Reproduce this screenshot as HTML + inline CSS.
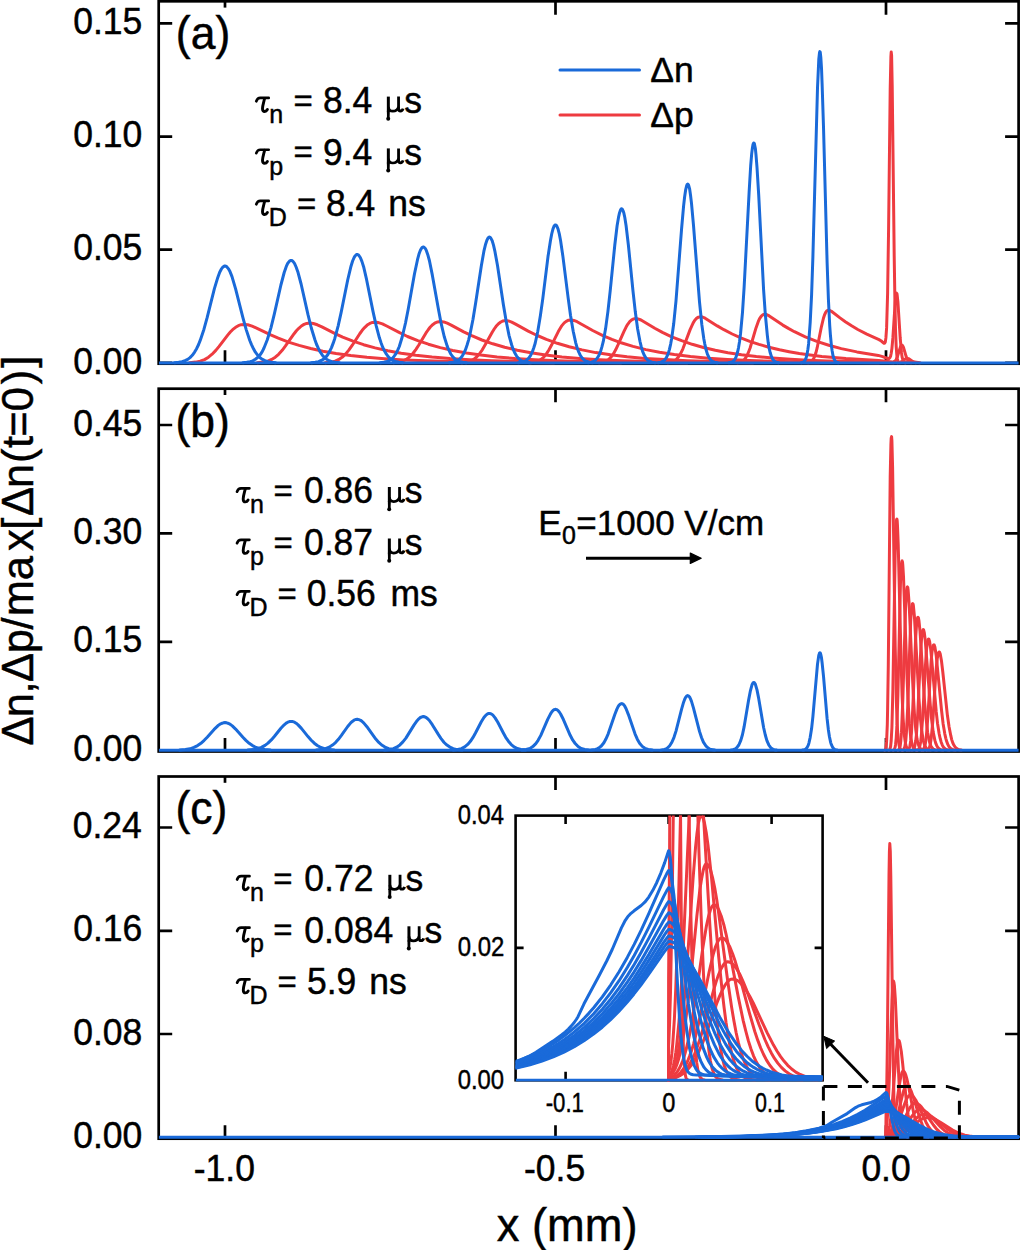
<!DOCTYPE html><html><head><meta charset="utf-8"><style>html,body{margin:0;padding:0;background:#fff;width:1020px;height:1250px;overflow:hidden}svg{display:block}</style></head><body><svg width="1020" height="1250" viewBox="0 0 1020 1250" font-family="'Liberation Sans', sans-serif">
<style>text{stroke:#000;stroke-width:0.45px;paint-order:stroke}</style>
<rect width="1020" height="1250" fill="#fff"/>
<defs>
<clipPath id="ca"><rect x="158.7" y="1.3" width="860.9" height="363.9"/></clipPath>
<clipPath id="cb"><rect x="158.7" y="388.7" width="860.9" height="364.3"/></clipPath>
<clipPath id="cc"><rect x="158.7" y="776.5" width="860.9" height="363.7"/></clipPath>
<clipPath id="ci"><rect x="515.6" y="815.6" width="307" height="266"/></clipPath>
</defs>
<rect x="158.7" y="1.3" width="859.9" height="362.4" fill="none" stroke="#000" stroke-width="2.7"/>
<path d="M158.7,23.4h13.5M1018.6,23.4h-13.5" stroke="#000" stroke-width="2.7"/>
<path d="M158.7,136.6h13.5M1018.6,136.6h-13.5" stroke="#000" stroke-width="2.7"/>
<path d="M158.7,249.7h13.5M1018.6,249.7h-13.5" stroke="#000" stroke-width="2.7"/>
<path d="M158.7,362.9h13.5M1018.6,362.9h-13.5" stroke="#000" stroke-width="2.7"/>
<path d="M225.0,1.3v13.5M225.0,363.7v-13.5" stroke="#000" stroke-width="2.7"/>
<path d="M555.5,1.3v13.5M555.5,363.7v-13.5" stroke="#000" stroke-width="2.7"/>
<path d="M886.0,1.3v13.5M886.0,363.7v-13.5" stroke="#000" stroke-width="2.7"/>
<polyline fill="none" stroke="#ee3b40" stroke-width="3.0" stroke-linejoin="round" stroke-linecap="round" clip-path="url(#ca)" points="807.9,362.7 810.2,362.1 811.9,361.0 813.5,358.8 814.9,355.8 815.9,352.8 817.2,347.7 821.5,326.3 823.5,318.0 824.5,315.0 825.8,312.2 826.8,310.9 828.1,310.2 829.4,310.3 831.4,311.3 840.0,317.9 845.3,321.7 851.6,325.8 857.8,329.5 866.8,334.1 879.0,339.6 881.3,341.0 884.0,343.3 884.6,343.3 885.3,342.1 885.9,337.9 886.6,327.9 887.6,293.8 888.6,228.5 890.2,88.7 890.9,56.7 891.2,52.0 891.6,55.4 892.2,85.5 894.2,256.0 894.9,300.1 895.5,329.6 896.2,346.9 896.9,355.8 897.2,358.3 897.9,361.0 898.5,362.1 899.8,362.7"/>
<polyline fill="none" stroke="#ee3b40" stroke-width="3.0" stroke-linejoin="round" stroke-linecap="round" clip-path="url(#ca)" points="737.5,362.7 740.5,362.1 742.8,360.9 744.8,359.1 746.4,356.6 748.1,353.3 750.1,348.0 756.0,327.9 758.3,321.4 759.6,318.6 761.3,316.1 763.0,314.7 764.6,314.3 766.6,314.6 768.9,315.7 782.8,325.1 788.4,328.4 794.4,331.7 805.3,336.9 816.8,341.4 828.8,345.3 841.3,348.6 856.9,351.9 878.3,355.4 882.6,356.6 887.6,358.5 888.9,358.6 889.9,357.7 890.6,356.2 891.2,353.3 891.9,348.6 892.9,337.7 895.2,302.4 895.9,295.6 896.2,293.8 896.5,293.1 896.9,293.6 897.2,295.3 897.9,301.8 900.2,338.0 901.5,352.7 902.1,357.0 903.1,360.6 904.1,362.1 905.5,362.7"/>
<polyline fill="none" stroke="#ee3b40" stroke-width="3.0" stroke-linejoin="round" stroke-linecap="round" clip-path="url(#ca)" points="667.7,362.7 671.4,362.1 674.0,361.1 676.3,359.5 678.6,356.8 680.6,353.6 682.9,348.8 690.2,329.4 693.2,322.9 694.8,320.3 696.8,318.1 698.5,317.1 700.5,316.7 702.5,317.0 705.1,318.2 717.3,325.9 723.9,329.7 732.2,334.0 740.8,337.9 749.7,341.3 759.0,344.4 768.9,347.2 779.5,349.8 789.1,351.7 799.3,353.5 810.2,355.0 821.8,356.4 845.9,358.6 878.7,360.5 892.6,362.0 893.6,361.9 894.5,361.4 895.5,360.5 896.2,359.5 897.5,356.4 900.5,346.8 901.2,345.6 901.8,345.1 902.5,345.5 903.5,347.5 906.1,356.4 907.4,359.7 908.1,360.9 909.1,361.9 910.1,362.5 911.1,362.7"/>
<polyline fill="none" stroke="#ee3b40" stroke-width="3.0" stroke-linejoin="round" stroke-linecap="round" clip-path="url(#ca)" points="599.0,362.7 602.9,362.1 605.9,361.1 608.6,359.5 611.2,356.9 613.5,353.7 615.8,349.6 618.1,344.7 624.1,331.1 626.1,327.1 627.7,324.3 629.7,321.7 631.7,319.9 633.7,318.9 635.7,318.5 638.0,318.9 641.0,320.0 654.8,328.3 662.4,332.4 671.7,336.8 681.6,340.7 692.2,344.3 703.4,347.5 715.3,350.3 727.9,352.7 741.5,354.7 756.3,356.5 772.5,358.0 790.4,359.3 807.9,360.2 827.1,360.9 878.0,362.1 893.9,362.7"/>
<polyline fill="none" stroke="#ee3b40" stroke-width="3.0" stroke-linejoin="round" stroke-linecap="round" clip-path="url(#ca)" points="897.2,362.7 899.2,362.5 900.8,361.9 902.1,361.2 905.5,358.9 907.1,358.4 908.8,358.8 913.4,362.0 916.0,362.7"/>
<polyline fill="none" stroke="#ee3b40" stroke-width="3.0" stroke-linejoin="round" stroke-linecap="round" clip-path="url(#ca)" points="530.2,362.7 534.5,362.2 537.8,361.2 540.8,359.6 543.8,357.1 546.4,353.9 549.0,349.7 551.7,344.8 558.3,331.6 561.9,325.6 564.2,322.9 566.2,321.3 568.5,320.2 570.9,319.9 573.8,320.4 577.1,321.7 592.7,330.5 602.9,335.6 611.9,339.4 621.1,342.8 633.0,346.4 645.9,349.6 659.5,352.3 674.3,354.6 690.5,356.6 708.1,358.2 727.6,359.5 749.7,360.5 774.2,361.3 802.6,361.9 879.3,362.7"/>
<polyline fill="none" stroke="#ee3b40" stroke-width="3.0" stroke-linejoin="round" stroke-linecap="round" clip-path="url(#ca)" points="904.8,362.7 912.4,361.8 920.0,362.7"/>
<polyline fill="none" stroke="#ee3b40" stroke-width="3.0" stroke-linejoin="round" stroke-linecap="round" clip-path="url(#ca)" points="461.8,362.7 466.7,362.1 470.4,361.1 473.7,359.4 476.6,357.0 479.3,354.0 482.3,349.8 485.2,344.8 492.2,332.2 494.2,329.0 496.1,326.3 498.5,323.7 500.8,322.0 503.1,320.9 505.7,320.6 508.4,320.9 511.7,322.1 515.6,324.1 528.2,331.1 536.1,335.0 546.4,339.4 557.3,343.3 569.2,346.8 582.1,349.9 595.7,352.6 610.5,354.8 627.1,356.8 644.9,358.4 664.8,359.6 687.2,360.7 712.4,361.4 741.8,362.0 819.5,362.7"/>
<polyline fill="none" stroke="#ee3b40" stroke-width="3.0" stroke-linejoin="round" stroke-linecap="round" clip-path="url(#ca)" points="393.3,362.7 398.6,362.1 402.6,361.1 406.2,359.4 409.5,357.0 412.5,354.0 415.8,349.6 418.8,345.0 426.0,332.9 428.4,329.5 430.3,327.0 433.0,324.4 435.3,322.8 437.6,321.9 440.3,321.5 443.6,321.9 447.2,323.2 451.2,325.1 463.7,331.9 471.7,335.7 481.9,340.0 492.8,343.8 504.7,347.2 517.3,350.2 530.9,352.8 545.7,355.0 561.9,356.9 579.8,358.4 599.6,359.7 622.1,360.7 647.2,361.4 676.3,362.0 753.4,362.7"/>
<polyline fill="none" stroke="#ee3b40" stroke-width="3.0" stroke-linejoin="round" stroke-linecap="round" clip-path="url(#ca)" points="325.2,362.7 330.8,362.1 335.1,361.1 338.8,359.5 342.4,357.1 345.7,353.9 349.0,349.9 352.3,345.2 359.9,333.5 362.2,330.3 364.6,327.6 367.2,325.1 369.8,323.4 372.5,322.4 375.1,322.2 378.4,322.6 382.4,323.9 386.7,326.0 399.6,332.7 407.5,336.5 417.8,340.6 428.4,344.2 440.3,347.6 452.8,350.5 466.4,353.0 480.9,355.1 497.1,357.0 515.0,358.5 534.8,359.7 557.0,360.7 581.8,361.5 610.9,362.0 687.6,362.7"/>
<polyline fill="none" stroke="#ee3b40" stroke-width="3.0" stroke-linejoin="round" stroke-linecap="round" clip-path="url(#ca)" points="257.4,362.7 263.0,362.1 267.7,361.1 271.6,359.5 275.3,357.2 278.6,354.3 282.2,350.3 285.5,345.9 294.1,333.7 296.4,330.8 298.8,328.3 301.4,326.0 304.0,324.4 306.7,323.4 309.7,323.1 313.3,323.5 317.3,324.8 321.9,326.9 335.1,333.6 342.7,337.1 353.0,341.1 363.6,344.7 375.1,347.9 387.7,350.7 401.2,353.2 415.8,355.3 432.0,357.1 449.9,358.6 469.7,359.8 491.8,360.8 516.6,361.5 545.4,362.0 621.4,362.7"/>
<polyline fill="none" stroke="#ee3b40" stroke-width="3.0" stroke-linejoin="round" stroke-linecap="round" clip-path="url(#ca)" points="189.6,362.7 195.6,362.1 200.2,361.2 204.5,359.6 208.5,357.2 212.1,354.2 215.8,350.4 219.1,346.4 227.7,335.1 230.3,332.0 232.6,329.7 235.6,327.3 238.3,325.7 241.2,324.7 244.2,324.4 247.8,324.8 252.1,326.1 257.1,328.3 270.7,334.9 278.3,338.2 288.5,342.1 299.1,345.4 310.7,348.5 322.9,351.2 336.1,353.5 350.7,355.5 366.9,357.3 384.4,358.7 403.9,359.9 426.0,360.8 450.8,361.5 479.3,362.0 554.3,362.7"/>
<path d="M158.7,362.90H1018.6" stroke="#1a6ad9" stroke-width="3.0" clip-path="url(#ca)"/>
<polyline fill="none" stroke="#1a6ad9" stroke-width="3.0" stroke-linejoin="round" stroke-linecap="round" clip-path="url(#ca)" points="801.3,362.7 803.3,362.1 804.6,361.0 805.9,358.5 806.9,355.0 807.9,349.3 808.6,343.9 810.2,322.3 811.6,294.7 812.9,256.6 817.5,88.0 818.8,59.2 819.5,52.6 819.8,51.6 820.2,52.0 820.8,57.2 821.5,68.0 822.1,83.7 823.5,126.7 827.1,262.3 828.4,299.0 829.7,325.3 830.4,334.8 831.4,345.5 832.1,350.5 833.0,355.7 834.0,358.9 835.0,360.8 836.4,362.1 838.3,362.7"/>
<polyline fill="none" stroke="#1a6ad9" stroke-width="3.0" stroke-linejoin="round" stroke-linecap="round" clip-path="url(#ca)" points="728.9,362.7 731.2,362.3 733.2,361.2 734.9,359.3 736.2,356.6 737.5,352.3 738.5,347.8 739.5,341.8 740.5,334.0 742.5,312.3 744.1,287.7 749.1,192.6 750.7,165.5 751.7,153.6 752.4,148.0 753.0,144.4 753.7,143.0 754.0,143.1 754.4,143.7 755.4,148.9 756.0,154.9 757.0,167.3 758.7,194.9 763.6,289.8 765.3,314.0 767.3,335.1 768.2,342.6 769.2,348.5 770.2,352.8 771.6,356.9 772.9,359.5 774.2,361.0 776.2,362.2 778.5,362.7"/>
<polyline fill="none" stroke="#1a6ad9" stroke-width="3.0" stroke-linejoin="round" stroke-linecap="round" clip-path="url(#ca)" points="658.1,362.7 661.1,362.1 663.1,361.2 664.8,359.9 666.4,357.5 668.1,353.9 669.4,349.6 670.7,343.8 671.7,338.2 673.7,323.8 676.0,300.9 681.6,228.6 683.6,205.9 684.6,197.0 685.6,190.2 686.6,185.8 687.2,184.4 687.6,184.1 687.9,184.2 688.6,185.2 689.6,188.8 690.5,195.0 691.5,203.4 693.5,225.4 699.5,301.8 701.8,324.4 703.8,338.7 704.8,344.1 706.1,349.8 707.4,354.1 709.1,357.7 710.7,359.9 712.4,361.3 714.4,362.2 717.3,362.7"/>
<polyline fill="none" stroke="#1a6ad9" stroke-width="3.0" stroke-linejoin="round" stroke-linecap="round" clip-path="url(#ca)" points="588.1,362.7 591.4,362.2 593.7,361.3 595.7,359.9 597.3,358.0 599.0,355.2 600.6,351.2 601.9,346.9 603.3,341.4 605.6,328.6 607.9,311.6 610.2,290.8 614.8,245.0 617.1,225.7 618.5,217.4 619.5,212.9 620.5,210.0 621.1,209.0 621.4,208.8 621.8,208.8 622.4,209.4 623.1,210.8 623.8,212.9 624.8,217.5 626.1,225.8 628.4,245.2 633.0,291.1 635.3,311.8 637.6,328.8 640.0,341.5 641.3,346.9 642.6,351.3 644.3,355.3 645.9,358.1 647.6,359.9 649.6,361.3 651.9,362.2 655.2,362.7"/>
<polyline fill="none" stroke="#1a6ad9" stroke-width="3.0" stroke-linejoin="round" stroke-linecap="round" clip-path="url(#ca)" points="518.3,362.7 521.6,362.3 524.2,361.5 526.6,360.2 528.5,358.4 530.5,355.6 532.2,352.2 533.8,347.7 535.2,343.2 537.8,331.3 540.4,315.4 542.8,298.6 548.0,256.6 550.4,241.0 551.7,234.0 553.0,228.8 554.3,225.7 555.0,225.0 555.7,224.9 556.6,225.7 558.0,228.8 559.3,233.9 560.6,240.8 562.9,256.4 568.2,298.4 570.5,315.2 573.2,331.2 575.8,343.1 577.1,347.7 578.8,352.2 580.4,355.5 582.4,358.4 584.4,360.2 586.7,361.5 589.4,362.3 592.7,362.7"/>
<polyline fill="none" stroke="#1a6ad9" stroke-width="3.0" stroke-linejoin="round" stroke-linecap="round" clip-path="url(#ca)" points="449.2,362.7 452.8,362.2 455.5,361.5 457.8,360.4 460.1,358.6 462.1,356.2 463.7,353.5 465.4,349.9 467.0,345.3 468.7,339.6 470.0,334.2 473.0,319.2 475.6,303.2 481.3,265.9 483.9,251.2 485.6,244.2 486.9,240.2 488.2,237.8 488.9,237.2 489.5,237.1 490.2,237.4 490.8,238.1 492.2,240.8 493.5,245.1 494.8,250.8 497.5,265.5 503.4,304.8 506.1,320.7 509.0,335.3 511.7,345.0 513.3,349.7 515.0,353.3 516.6,356.1 518.6,358.5 520.9,360.4 523.3,361.5 525.9,362.2 529.5,362.7"/>
<polyline fill="none" stroke="#1a6ad9" stroke-width="3.0" stroke-linejoin="round" stroke-linecap="round" clip-path="url(#ca)" points="380.1,362.7 384.1,362.3 387.0,361.5 389.3,360.5 391.7,359.0 393.6,357.0 395.6,354.2 397.6,350.4 399.3,346.5 402.2,337.0 405.5,323.0 408.2,309.3 414.5,273.8 417.5,259.7 419.1,253.7 420.4,250.2 421.4,248.4 422.1,247.6 422.7,247.2 423.4,247.0 424.1,247.3 424.7,247.8 425.4,248.7 426.4,250.7 427.7,254.4 429.4,260.5 432.3,274.9 438.3,308.6 440.9,322.3 444.2,336.5 447.2,346.1 448.9,350.2 450.8,354.0 452.8,356.8 454.8,358.9 457.1,360.5 459.8,361.6 462.7,362.3 466.4,362.7"/>
<polyline fill="none" stroke="#1a6ad9" stroke-width="3.0" stroke-linejoin="round" stroke-linecap="round" clip-path="url(#ca)" points="311.3,362.7 315.3,362.3 318.6,361.6 321.2,360.5 323.6,359.1 325.9,357.0 327.9,354.5 329.8,351.1 331.5,347.6 333.1,343.4 334.8,338.4 338.1,326.1 341.1,312.7 347.7,280.0 351.0,266.2 352.6,261.0 354.3,257.2 355.3,255.7 356.0,255.0 356.6,254.6 357.3,254.5 357.9,254.7 358.6,255.1 360.3,257.5 361.9,261.4 363.6,266.7 366.5,279.2 373.1,311.9 376.1,325.4 379.4,337.8 381.1,342.9 382.7,347.2 384.4,350.8 386.4,354.2 388.4,356.8 390.7,359.0 393.0,360.5 395.6,361.5 398.9,362.3 402.9,362.7"/>
<polyline fill="none" stroke="#1a6ad9" stroke-width="3.0" stroke-linejoin="round" stroke-linecap="round" clip-path="url(#ca)" points="242.9,362.7 246.8,362.3 250.2,361.7 252.8,360.8 255.4,359.3 257.8,357.4 260.1,354.8 262.1,351.8 264.0,348.0 267.3,339.7 271.0,327.6 274.3,314.2 280.9,285.0 284.2,272.5 286.2,266.7 287.8,263.2 289.5,261.1 290.5,260.5 291.2,260.4 291.8,260.5 292.8,261.2 294.5,263.4 296.1,267.0 297.8,271.7 301.1,284.0 308.0,314.7 311.3,328.0 315.0,340.0 316.6,344.5 318.3,348.2 320.2,352.0 322.2,354.9 324.2,357.2 326.5,359.2 329.2,360.7 331.8,361.6 335.1,362.3 339.4,362.7"/>
<polyline fill="none" stroke="#1a6ad9" stroke-width="3.0" stroke-linejoin="round" stroke-linecap="round" clip-path="url(#ca)" points="174.4,362.7 178.7,362.3 182.0,361.7 185.0,360.7 187.7,359.4 190.0,357.6 192.3,355.3 194.6,352.1 196.6,348.7 198.6,344.5 200.2,340.4 203.9,329.4 207.2,317.4 214.4,288.6 217.8,277.4 219.7,272.2 221.4,269.0 222.4,267.6 223.4,266.7 224.4,266.1 225.0,266.0 225.7,266.2 226.7,266.7 228.3,268.6 230.0,271.6 232.0,276.6 235.6,288.8 242.9,317.6 246.2,329.6 249.8,340.5 251.5,344.6 253.5,348.8 255.4,352.2 257.8,355.3 260.1,357.7 262.4,359.4 265.0,360.7 268.0,361.7 271.3,362.3 275.6,362.7"/>
<rect x="176.6" y="7.6" width="54" height="44" fill="#fff"/>
<g transform="translate(255.10,112.80)" fill="none" stroke="#000"><path d="M1.2,-11.5C2,-13.8 3.3,-14.85 5.2,-14.85L13.6,-14.85" stroke-width="2.7" stroke-linecap="round"/><path d="M9.5,-14.3C8.6,-10.5 7.4,-7 7.4,-4.3C7.4,-2.2 8.3,-1.3 9.6,-1.3C10.8,-1.3 11.6,-2 12.3,-3.2" stroke-width="2.9" stroke-linecap="round"/></g>
<g transform="translate(386.80,112.80)" fill="none" stroke="#000" stroke-width="3.0"><path d="M1.55,-16.2V-1"/><path d="M1.6,-6C1.9,-2.9 3.5,-1.6 6,-1.6C8.6,-1.6 10.9,-3.1 11.75,-6" stroke-width="2.7"/><path d="M11.75,-16.2V-4.6C11.75,-2.6 12.5,-1.8 13.7,-1.8C15,-1.8 15.8,-2.6 16.3,-4.2" stroke-width="2.8"/><path d="M0.05,-2L3.05,-2L2.8,5.4L0.2,5.4Z" fill="#000" stroke="none"/><circle cx="1.4" cy="6.0" r="2.0" fill="#000" stroke="none"/></g>
<g transform="translate(255.10,164.60)" fill="none" stroke="#000"><path d="M1.2,-11.5C2,-13.8 3.3,-14.85 5.2,-14.85L13.6,-14.85" stroke-width="2.7" stroke-linecap="round"/><path d="M9.5,-14.3C8.6,-10.5 7.4,-7 7.4,-4.3C7.4,-2.2 8.3,-1.3 9.6,-1.3C10.8,-1.3 11.6,-2 12.3,-3.2" stroke-width="2.9" stroke-linecap="round"/></g>
<g transform="translate(386.80,164.60)" fill="none" stroke="#000" stroke-width="3.0"><path d="M1.55,-16.2V-1"/><path d="M1.6,-6C1.9,-2.9 3.5,-1.6 6,-1.6C8.6,-1.6 10.9,-3.1 11.75,-6" stroke-width="2.7"/><path d="M11.75,-16.2V-4.6C11.75,-2.6 12.5,-1.8 13.7,-1.8C15,-1.8 15.8,-2.6 16.3,-4.2" stroke-width="2.8"/><path d="M0.05,-2L3.05,-2L2.8,5.4L0.2,5.4Z" fill="#000" stroke="none"/><circle cx="1.4" cy="6.0" r="2.0" fill="#000" stroke="none"/></g>
<g transform="translate(255.10,215.80)" fill="none" stroke="#000"><path d="M1.2,-11.5C2,-13.8 3.3,-14.85 5.2,-14.85L13.6,-14.85" stroke-width="2.7" stroke-linecap="round"/><path d="M9.5,-14.3C8.6,-10.5 7.4,-7 7.4,-4.3C7.4,-2.2 8.3,-1.3 9.6,-1.3C10.8,-1.3 11.6,-2 12.3,-3.2" stroke-width="2.9" stroke-linecap="round"/></g>
<path d="M560,70H639.5" stroke="#1a6ad9" stroke-width="3" stroke-linecap="round"/>
<path d="M560,115H639.5" stroke="#ee3b40" stroke-width="3" stroke-linecap="round"/>
<rect x="158.7" y="388.7" width="859.9" height="362.8" fill="none" stroke="#000" stroke-width="2.7"/>
<path d="M158.7,425.0h13.5M1018.6,425.0h-13.5" stroke="#000" stroke-width="2.7"/>
<path d="M158.7,533.4h13.5M1018.6,533.4h-13.5" stroke="#000" stroke-width="2.7"/>
<path d="M158.7,641.9h13.5M1018.6,641.9h-13.5" stroke="#000" stroke-width="2.7"/>
<path d="M158.7,750.3h13.5M1018.6,750.3h-13.5" stroke="#000" stroke-width="2.7"/>
<path d="M225.0,388.7v13.5M225.0,751.5v-13.5" stroke="#000" stroke-width="2.7"/>
<path d="M555.5,388.7v13.5M555.5,751.5v-13.5" stroke="#000" stroke-width="2.7"/>
<path d="M886.0,388.7v13.5M886.0,751.5v-13.5" stroke="#000" stroke-width="2.7"/>
<polyline fill="none" stroke="#ee3b40" stroke-width="3.0" stroke-linejoin="round" stroke-linecap="round" clip-path="url(#cb)" points="884.6,750.2 885.3,749.8 885.9,747.9 886.6,741.4 887.3,724.6 887.6,709.9 888.3,665.2 890.2,476.6 890.9,444.5 891.2,438.1 891.6,436.6 891.9,440.5 892.6,467.3 895.2,647.1 896.5,705.7 897.5,729.5 898.5,741.6 899.2,745.7 899.8,748.0 900.8,749.5 902.1,750.2"/>
<polyline fill="none" stroke="#ee3b40" stroke-width="3.0" stroke-linejoin="round" stroke-linecap="round" clip-path="url(#cb)" points="888.6,750.2 889.3,750.0 889.9,749.2 890.6,746.7 891.2,740.5 891.9,727.6 892.9,689.4 895.2,552.2 895.9,529.1 896.2,522.9 896.5,519.8 896.9,519.0 897.2,520.8 897.5,526.0 898.2,543.9 901.2,664.4 902.1,695.7 903.1,718.1 904.1,732.6 904.8,738.9 905.5,743.2 906.1,746.0 907.1,748.4 908.1,749.5 909.8,750.1"/>
<polyline fill="none" stroke="#ee3b40" stroke-width="3.0" stroke-linejoin="round" stroke-linecap="round" clip-path="url(#cb)" points="893.2,750.2 893.9,749.9 894.5,749.1 895.2,746.9 895.5,744.9 896.2,738.1 896.9,725.9 897.9,694.7 900.5,581.9 901.2,567.3 901.5,563.4 901.8,561.4 902.1,560.9 902.5,562.0 902.8,565.2 903.5,576.6 907.1,679.4 908.1,702.1 909.4,723.9 910.7,737.1 912.1,744.3 913.1,747.2 914.1,748.7 915.4,749.7 917.0,750.2"/>
<polyline fill="none" stroke="#ee3b40" stroke-width="3.0" stroke-linejoin="round" stroke-linecap="round" clip-path="url(#cb)" points="897.9,750.2 898.5,749.9 899.2,749.2 899.8,747.5 900.2,746.0 900.8,741.0 901.5,732.4 902.8,700.4 905.5,609.5 906.4,591.5 906.8,588.7 907.1,587.3 907.4,586.9 907.8,587.6 908.1,589.9 909.1,603.4 913.1,690.8 914.4,713.3 915.7,729.0 917.0,738.9 917.7,742.2 918.7,745.6 919.7,747.7 920.7,748.9 922.0,749.7 923.6,750.1"/>
<polyline fill="none" stroke="#ee3b40" stroke-width="3.0" stroke-linejoin="round" stroke-linecap="round" clip-path="url(#cb)" points="902.5,750.2 903.1,750.0 903.8,749.4 904.8,746.9 905.8,740.6 906.4,732.7 907.8,705.3 909.8,645.6 910.7,620.9 911.7,607.1 912.1,604.9 912.4,603.9 912.7,603.6 913.1,604.1 913.4,605.8 914.4,616.2 919.0,699.2 920.3,717.3 921.7,730.4 923.3,740.6 924.0,743.2 925.0,746.0 926.0,747.8 926.9,748.9 928.3,749.7 930.3,750.1"/>
<polyline fill="none" stroke="#ee3b40" stroke-width="3.0" stroke-linejoin="round" stroke-linecap="round" clip-path="url(#cb)" points="907.1,750.2 908.1,749.8 908.8,749.2 909.8,746.7 910.7,740.7 911.4,733.6 912.7,710.1 915.7,636.8 916.7,622.7 917.4,618.4 917.7,617.5 918.0,617.3 918.4,617.7 919.0,621.1 920.0,631.2 924.6,702.0 926.0,717.9 927.6,732.2 929.3,741.0 929.9,743.3 930.9,745.9 931.9,747.6 933.2,749.0 934.6,749.7 936.5,750.1"/>
<polyline fill="none" stroke="#ee3b40" stroke-width="3.0" stroke-linejoin="round" stroke-linecap="round" clip-path="url(#cb)" points="912.1,750.2 913.1,749.8 913.7,749.1 914.7,746.6 915.7,741.1 916.4,734.9 917.7,714.8 921.0,645.4 922.0,634.0 922.6,630.5 923.0,629.8 923.3,629.6 923.6,629.9 924.3,632.6 925.3,640.8 930.3,705.3 931.6,719.2 933.2,732.1 934.9,740.4 935.9,743.7 936.9,746.0 937.9,747.6 939.2,748.9 940.8,749.7 942.8,750.1"/>
<polyline fill="none" stroke="#ee3b40" stroke-width="3.0" stroke-linejoin="round" stroke-linecap="round" clip-path="url(#cb)" points="916.7,750.2 917.7,749.9 918.4,749.4 919.0,748.4 919.7,746.7 920.7,741.7 921.3,736.1 922.6,718.7 925.3,667.8 926.3,652.2 927.3,642.7 927.9,639.8 928.3,639.2 928.6,639.0 928.9,639.2 929.6,641.5 930.6,648.3 931.9,661.7 936.2,711.5 937.5,723.2 939.2,734.0 940.2,738.7 941.2,742.2 942.2,744.8 943.1,746.7 944.1,748.0 945.5,749.0 947.1,749.7 949.1,750.1"/>
<polyline fill="none" stroke="#ee3b40" stroke-width="3.0" stroke-linejoin="round" stroke-linecap="round" clip-path="url(#cb)" points="921.7,750.2 922.6,749.9 923.3,749.3 924.3,747.6 925.3,744.0 926.3,737.1 927.9,716.5 931.2,660.2 931.9,652.9 932.6,648.0 933.2,645.4 933.6,644.9 933.9,644.8 934.2,644.9 934.9,646.9 936.2,655.4 941.5,710.0 943.1,723.7 944.8,733.8 945.8,738.3 946.8,741.8 947.8,744.4 948.8,746.3 950.1,748.0 951.4,749.0 953.1,749.7 955.4,750.1"/>
<polyline fill="none" stroke="#ee3b40" stroke-width="3.0" stroke-linejoin="round" stroke-linecap="round" clip-path="url(#cb)" points="926.6,750.2 927.6,749.8 928.3,749.3 929.3,747.7 930.3,744.4 931.2,738.3 932.9,720.3 935.5,678.4 936.5,665.3 937.2,658.9 937.9,654.8 938.5,652.6 939.2,652.0 939.5,652.1 940.2,653.8 941.5,661.1 942.8,672.0 947.4,715.3 949.1,727.0 950.8,735.7 951.7,739.6 952.7,742.6 953.7,744.8 955.1,747.0 956.4,748.3 957.7,749.2 959.3,749.8 961.3,750.1"/>
<path d="M158.7,750.30H1018.6" stroke="#1a6ad9" stroke-width="3.0" clip-path="url(#cb)"/>
<polyline fill="none" stroke="#1a6ad9" stroke-width="3.0" stroke-linejoin="round" stroke-linecap="round" clip-path="url(#cb)" points="802.6,750.1 804.0,749.9 805.3,749.3 806.3,748.5 807.3,747.2 808.3,745.1 808.9,743.1 810.2,737.3 811.6,728.6 812.9,716.7 817.5,664.1 818.8,655.2 819.5,653.1 819.8,652.8 820.2,652.9 820.8,654.5 821.5,657.9 822.1,662.8 823.5,676.2 827.1,718.5 828.4,730.0 829.4,736.5 830.7,742.6 831.4,744.7 832.4,746.9 833.4,748.4 834.4,749.2 835.7,749.9 837.0,750.1"/>
<polyline fill="none" stroke="#1a6ad9" stroke-width="3.0" stroke-linejoin="round" stroke-linecap="round" clip-path="url(#cb)" points="731.2,750.1 732.9,749.8 734.5,749.3 735.8,748.5 736.8,747.7 738.8,745.0 740.8,740.3 742.5,734.5 744.1,726.9 748.7,699.6 750.4,690.8 752.0,684.8 753.0,682.9 753.7,682.5 754.4,682.7 755.4,684.3 757.0,689.9 758.7,698.4 763.6,727.5 765.3,735.0 766.9,740.7 768.9,745.2 770.9,747.8 771.9,748.6 773.2,749.3 774.9,749.9 776.5,750.1"/>
<polyline fill="none" stroke="#1a6ad9" stroke-width="3.0" stroke-linejoin="round" stroke-linecap="round" clip-path="url(#cb)" points="660.8,750.1 664.4,749.4 666.1,748.8 667.4,748.0 669.7,745.7 672.0,742.0 674.0,737.3 676.0,731.1 681.6,709.1 683.6,702.2 684.6,699.5 685.6,697.4 686.6,696.1 687.6,695.6 688.6,695.9 689.6,697.0 690.5,698.9 691.5,701.4 693.5,708.1 699.5,731.4 701.5,737.5 703.4,742.1 705.8,745.8 708.1,748.0 709.4,748.8 711.0,749.5 714.7,750.1"/>
<polyline fill="none" stroke="#1a6ad9" stroke-width="3.0" stroke-linejoin="round" stroke-linecap="round" clip-path="url(#cb)" points="591.0,750.1 595.3,749.4 597.0,748.9 598.6,748.1 601.3,746.0 603.9,742.7 605.9,739.1 608.2,733.8 614.8,714.5 616.8,709.4 618.1,706.7 619.1,705.2 620.5,704.0 621.4,703.6 622.4,703.8 623.8,704.8 624.8,706.2 626.1,708.7 628.4,714.6 635.0,733.8 637.3,739.2 639.6,743.2 642.3,746.4 644.9,748.3 648.2,749.5 652.2,750.1"/>
<polyline fill="none" stroke="#1a6ad9" stroke-width="3.0" stroke-linejoin="round" stroke-linecap="round" clip-path="url(#cb)" points="521.9,750.1 526.2,749.5 529.9,748.4 532.8,746.6 535.8,743.6 538.1,740.3 540.8,735.4 547.7,719.4 550.4,714.1 551.7,712.0 553.0,710.5 554.3,709.6 555.7,709.3 556.6,709.6 558.0,710.5 559.3,712.0 560.6,714.0 563.3,719.3 570.2,735.3 572.8,740.2 575.2,743.5 578.1,746.5 581.1,748.4 584.7,749.5 589.0,750.1"/>
<polyline fill="none" stroke="#1a6ad9" stroke-width="3.0" stroke-linejoin="round" stroke-linecap="round" clip-path="url(#cb)" points="453.2,750.1 457.8,749.5 461.4,748.6 464.7,746.9 467.7,744.4 470.4,741.3 473.0,737.4 475.6,732.7 481.3,721.8 483.9,717.5 485.6,715.5 486.9,714.3 488.2,713.6 489.5,713.4 490.8,713.7 492.2,714.5 493.5,715.8 495.1,717.9 497.8,722.3 503.1,732.5 505.7,737.3 508.4,741.2 511.0,744.3 514.0,746.8 517.3,748.5 520.9,749.5 525.6,750.1"/>
<polyline fill="none" stroke="#1a6ad9" stroke-width="3.0" stroke-linejoin="round" stroke-linecap="round" clip-path="url(#cb)" points="384.4,750.1 389.3,749.6 393.3,748.6 396.6,747.2 399.9,744.9 402.9,741.9 405.9,738.1 414.1,724.9 417.1,720.7 418.8,718.8 420.4,717.5 422.1,716.8 423.4,716.6 424.7,716.8 426.4,717.7 427.7,718.7 429.4,720.5 432.3,724.7 438.3,734.4 440.9,738.4 443.9,742.2 446.5,744.8 449.9,747.1 453.2,748.6 457.1,749.6 462.1,750.1"/>
<polyline fill="none" stroke="#1a6ad9" stroke-width="3.0" stroke-linejoin="round" stroke-linecap="round" clip-path="url(#cb)" points="316.3,750.1 321.6,749.6 325.5,748.7 329.2,747.2 332.5,745.1 335.5,742.6 338.4,739.3 341.4,735.4 347.7,726.5 350.7,722.9 352.3,721.4 354.0,720.2 355.6,719.5 357.3,719.3 358.9,719.6 360.6,720.3 362.2,721.5 363.9,723.1 366.9,726.7 375.8,739.1 378.8,742.4 381.7,745.0 385.0,747.1 388.7,748.6 393.0,749.6 398.3,750.1"/>
<polyline fill="none" stroke="#1a6ad9" stroke-width="3.0" stroke-linejoin="round" stroke-linecap="round" clip-path="url(#cb)" points="247.8,750.1 253.5,749.6 257.8,748.7 261.4,747.4 265.0,745.4 268.0,743.1 271.3,739.9 274.3,736.5 280.9,728.3 284.2,724.8 286.2,723.1 287.8,722.2 289.5,721.6 291.2,721.4 292.8,721.6 294.5,722.2 296.1,723.2 298.1,724.9 301.4,728.4 308.0,736.6 311.0,740.0 314.3,743.2 317.3,745.5 320.9,747.5 324.5,748.7 328.8,749.6 334.1,750.1"/>
<polyline fill="none" stroke="#1a6ad9" stroke-width="3.0" stroke-linejoin="round" stroke-linecap="round" clip-path="url(#cb)" points="179.7,750.1 185.4,749.6 190.0,748.8 193.9,747.4 197.6,745.6 200.9,743.3 204.2,740.3 207.2,737.2 214.1,729.4 217.8,725.8 219.7,724.4 221.4,723.5 223.4,722.8 225.0,722.6 226.7,722.8 228.7,723.5 230.3,724.4 232.3,725.9 235.6,729.1 242.9,737.3 245.9,740.4 249.2,743.3 252.5,745.6 256.1,747.5 260.1,748.8 264.7,749.6 270.3,750.1"/>
<rect x="176.2" y="395.0" width="54" height="44" fill="#fff"/>
<g transform="translate(235.80,503.20)" fill="none" stroke="#000"><path d="M1.2,-11.5C2,-13.8 3.3,-14.85 5.2,-14.85L13.6,-14.85" stroke-width="2.7" stroke-linecap="round"/><path d="M9.5,-14.3C8.6,-10.5 7.4,-7 7.4,-4.3C7.4,-2.2 8.3,-1.3 9.6,-1.3C10.8,-1.3 11.6,-2 12.3,-3.2" stroke-width="2.9" stroke-linecap="round"/></g>
<g transform="translate(387.80,503.20)" fill="none" stroke="#000" stroke-width="3.0"><path d="M1.55,-16.2V-1"/><path d="M1.6,-6C1.9,-2.9 3.5,-1.6 6,-1.6C8.6,-1.6 10.9,-3.1 11.75,-6" stroke-width="2.7"/><path d="M11.75,-16.2V-4.6C11.75,-2.6 12.5,-1.8 13.7,-1.8C15,-1.8 15.8,-2.6 16.3,-4.2" stroke-width="2.8"/><path d="M0.05,-2L3.05,-2L2.8,5.4L0.2,5.4Z" fill="#000" stroke="none"/><circle cx="1.4" cy="6.0" r="2.0" fill="#000" stroke="none"/></g>
<g transform="translate(235.80,554.70)" fill="none" stroke="#000"><path d="M1.2,-11.5C2,-13.8 3.3,-14.85 5.2,-14.85L13.6,-14.85" stroke-width="2.7" stroke-linecap="round"/><path d="M9.5,-14.3C8.6,-10.5 7.4,-7 7.4,-4.3C7.4,-2.2 8.3,-1.3 9.6,-1.3C10.8,-1.3 11.6,-2 12.3,-3.2" stroke-width="2.9" stroke-linecap="round"/></g>
<g transform="translate(387.80,554.70)" fill="none" stroke="#000" stroke-width="3.0"><path d="M1.55,-16.2V-1"/><path d="M1.6,-6C1.9,-2.9 3.5,-1.6 6,-1.6C8.6,-1.6 10.9,-3.1 11.75,-6" stroke-width="2.7"/><path d="M11.75,-16.2V-4.6C11.75,-2.6 12.5,-1.8 13.7,-1.8C15,-1.8 15.8,-2.6 16.3,-4.2" stroke-width="2.8"/><path d="M0.05,-2L3.05,-2L2.8,5.4L0.2,5.4Z" fill="#000" stroke="none"/><circle cx="1.4" cy="6.0" r="2.0" fill="#000" stroke="none"/></g>
<g transform="translate(235.80,606.20)" fill="none" stroke="#000"><path d="M1.2,-11.5C2,-13.8 3.3,-14.85 5.2,-14.85L13.6,-14.85" stroke-width="2.7" stroke-linecap="round"/><path d="M9.5,-14.3C8.6,-10.5 7.4,-7 7.4,-4.3C7.4,-2.2 8.3,-1.3 9.6,-1.3C10.8,-1.3 11.6,-2 12.3,-3.2" stroke-width="2.9" stroke-linecap="round"/></g>
<path d="M586,558.2H692" stroke="#000" stroke-width="3"/>
<path d="M701.2,558.2L690.3,553V563.4Z" fill="#000" stroke="#000" stroke-width="1.2" stroke-linejoin="round"/>
<rect x="158.7" y="776.5" width="859.9" height="362.2" fill="none" stroke="#000" stroke-width="2.7"/>
<path d="M158.7,827.5h13.5M1018.6,827.5h-13.5" stroke="#000" stroke-width="2.7"/>
<path d="M158.7,930.8h13.5M1018.6,930.8h-13.5" stroke="#000" stroke-width="2.7"/>
<path d="M158.7,1034.0h13.5M1018.6,1034.0h-13.5" stroke="#000" stroke-width="2.7"/>
<path d="M158.7,1137.3h13.5M1018.6,1137.3h-13.5" stroke="#000" stroke-width="2.7"/>
<path d="M225.0,776.5v13.5M225.0,1138.7v-13.5" stroke="#000" stroke-width="2.7"/>
<path d="M555.5,776.5v13.5M555.5,1138.7v-13.5" stroke="#000" stroke-width="2.7"/>
<path d="M886.0,776.5v13.5M886.0,1138.7v-13.5" stroke="#000" stroke-width="2.7"/>
<polyline fill="none" stroke="#ee3b40" stroke-width="3.0" stroke-linejoin="round" stroke-linecap="round" clip-path="url(#cc)" points="885.8,1137.3 886.0,1117.4 886.7,1090.4 887.3,1049.7 889.0,875.0 889.4,851.6 889.8,843.6 890.3,851.3 890.8,876.6 892.9,1040.3 893.9,1098.0 894.6,1117.7 895.3,1129.3 895.7,1132.6 896.3,1135.1 896.9,1136.5 897.6,1137.1"/>
<polyline fill="none" stroke="#ee3b40" stroke-width="3.0" stroke-linejoin="round" stroke-linecap="round" clip-path="url(#cc)" points="885.8,1137.3 886.0,1130.6 887.2,1120.4 888.3,1102.4 889.4,1076.6 892.0,1000.0 892.8,985.6 893.1,982.0 893.5,981.1 893.9,982.3 894.4,985.7 895.3,998.5 899.1,1084.2 900.1,1102.2 901.1,1115.6 902.2,1125.7 903.5,1132.3 904.3,1134.3 905.1,1135.7 906.0,1136.6 907.3,1137.1"/>
<polyline fill="none" stroke="#ee3b40" stroke-width="3.0" stroke-linejoin="round" stroke-linecap="round" clip-path="url(#cc)" points="885.8,1137.3 886.0,1135.9 886.8,1134.9 887.5,1133.7 888.7,1130.3 889.6,1125.7 890.6,1119.6 892.4,1101.5 896.3,1051.9 897.4,1043.1 898.0,1040.9 898.5,1040.2 899.2,1040.9 899.8,1042.9 901.3,1051.5 902.6,1063.0 906.6,1103.4 908.1,1114.8 909.5,1123.0 911.1,1129.6 912.0,1131.9 912.9,1133.7 913.9,1135.1 915.0,1136.0 916.4,1136.7 918.0,1137.1"/>
<polyline fill="none" stroke="#ee3b40" stroke-width="3.0" stroke-linejoin="round" stroke-linecap="round" clip-path="url(#cc)" points="885.8,1137.3 886.0,1136.7 887.3,1136.1 888.5,1135.2 889.9,1133.2 891.4,1130.1 892.7,1125.8 893.9,1120.2 895.2,1113.2 899.0,1086.9 900.4,1079.0 901.8,1073.0 902.5,1071.5 903.2,1071.1 904.1,1071.5 905.0,1073.0 905.9,1075.4 906.8,1078.7 908.6,1086.7 913.9,1114.1 915.7,1121.4 917.5,1127.0 919.5,1131.5 920.6,1133.1 921.8,1134.5 923.0,1135.5 924.4,1136.2 926.0,1136.7 928.0,1137.1"/>
<polyline fill="none" stroke="#ee3b40" stroke-width="3.0" stroke-linejoin="round" stroke-linecap="round" clip-path="url(#cc)" points="885.8,1137.3 886.0,1136.7 888.5,1135.7 890.6,1133.9 892.4,1131.4 893.9,1128.1 895.5,1123.8 897.0,1118.4 901.7,1098.1 903.3,1091.8 904.3,1089.1 905.1,1087.2 906.0,1086.0 906.8,1085.7 907.9,1086.0 909.0,1087.1 910.2,1089.1 911.4,1091.7 913.6,1097.9 920.1,1119.0 922.3,1124.8 924.5,1129.2 926.9,1132.6 928.3,1133.9 929.7,1134.9 931.2,1135.8 932.8,1136.4 936.9,1137.1"/>
<polyline fill="none" stroke="#ee3b40" stroke-width="3.0" stroke-linejoin="round" stroke-linecap="round" clip-path="url(#cc)" points="885.8,1137.3 886.0,1136.7 888.9,1135.8 891.3,1134.3 893.2,1132.3 895.1,1129.5 896.8,1126.1 898.6,1121.8 904.1,1105.3 906.1,1100.1 907.2,1097.8 908.3,1096.3 909.3,1095.4 910.3,1095.1 911.6,1095.4 912.9,1096.3 914.2,1097.8 915.7,1100.0 918.3,1105.1 926.0,1122.2 928.6,1126.9 931.2,1130.4 934.1,1133.3 937.3,1135.3 940.9,1136.4 945.5,1137.1"/>
<polyline fill="none" stroke="#ee3b40" stroke-width="3.0" stroke-linejoin="round" stroke-linecap="round" clip-path="url(#cc)" points="885.8,1137.3 886.0,1137.0 889.6,1136.3 892.6,1135.2 895.0,1133.5 897.2,1131.3 899.4,1128.5 901.5,1124.8 908.0,1111.3 910.3,1107.1 911.7,1105.3 912.9,1104.1 914.0,1103.3 915.2,1103.1 916.7,1103.3 918.2,1104.1 919.8,1105.3 921.5,1107.1 924.6,1111.2 930.6,1120.9 933.4,1125.0 936.4,1128.8 939.3,1131.6 942.5,1133.9 946.1,1135.5 950.2,1136.5 955.2,1137.1"/>
<polyline fill="none" stroke="#ee3b40" stroke-width="3.0" stroke-linejoin="round" stroke-linecap="round" clip-path="url(#cc)" points="886.5,1137.1 890.6,1136.6 893.9,1135.7 896.9,1134.4 899.6,1132.5 902.0,1130.2 904.5,1127.2 912.0,1116.2 914.6,1112.8 916.0,1111.4 917.4,1110.3 918.7,1109.7 920.1,1109.5 921.8,1109.7 923.6,1110.4 925.4,1111.4 927.3,1112.8 930.8,1116.2 940.8,1127.2 944.1,1130.2 947.3,1132.5 950.9,1134.4 954.8,1135.7 959.3,1136.6 964.8,1137.1"/>
<polyline fill="none" stroke="#ee3b40" stroke-width="3.0" stroke-linejoin="round" stroke-linecap="round" clip-path="url(#cc)" points="887.1,1137.1 891.4,1136.6 895.0,1135.9 898.2,1134.8 901.2,1133.2 903.9,1131.3 906.6,1128.9 914.9,1119.7 917.8,1116.9 919.5,1115.7 921.0,1114.9 922.5,1114.4 924.0,1114.2 925.9,1114.4 927.9,1114.9 930.0,1115.7 932.2,1116.9 936.1,1119.8 947.1,1128.9 950.8,1131.3 954.4,1133.2 958.4,1134.8 962.6,1135.9 967.3,1136.6 973.2,1137.1"/>
<polyline fill="none" stroke="#ee3b40" stroke-width="3.0" stroke-linejoin="round" stroke-linecap="round" clip-path="url(#cc)" points="886.8,1137.1 891.4,1136.7 895.2,1136.0 898.6,1135.1 901.9,1133.7 904.8,1132.1 907.8,1130.1 917.0,1122.3 920.2,1119.9 923.7,1118.1 925.4,1117.7 927.0,1117.6 929.2,1117.7 931.4,1118.1 933.7,1118.9 936.1,1119.9 940.4,1122.3 952.6,1130.0 956.6,1132.1 960.5,1133.7 964.8,1135.1 969.4,1136.0 974.5,1136.7 980.6,1137.1"/>
<path d="M158.7,1137.3H1018.6" stroke="#1a6ad9" stroke-width="3.0" clip-path="url(#cc)"/>
<polyline fill="none" stroke="#1a6ad9" stroke-width="3.0" stroke-linejoin="round" stroke-linecap="round" clip-path="url(#cc)" points="662.9,1137.1 721.0,1136.5 741.9,1136.0 762.6,1135.3 777.1,1134.6 787.8,1133.7 795.9,1132.7 804.7,1131.1 819.0,1128.1 823.3,1126.8 826.9,1125.4 831.8,1122.3 847.1,1113.6 855.6,1107.6 858.1,1106.2 861.8,1104.8 870.9,1102.5 873.4,1101.5 876.0,1100.2 881.0,1096.9 886.0,1092.5 886.5,1092.8 887.0,1093.7 888.1,1097.7 892.0,1120.4 893.9,1128.5 894.9,1131.4 896.0,1133.6 897.2,1135.0 898.8,1135.8 900.8,1136.2 904.7,1136.3 1018.2,1136.7"/>
<polyline fill="none" stroke="#1a6ad9" stroke-width="3.0" stroke-linejoin="round" stroke-linecap="round" clip-path="url(#cc)" points="695.7,1137.1 738.9,1136.4 755.7,1135.9 770.3,1135.1 783.3,1134.1 795.1,1132.8 806.0,1131.2 815.9,1129.3 825.3,1127.1 834.1,1124.5 842.5,1121.4 850.6,1117.9 857.7,1114.3 864.9,1110.2 871.7,1105.8 883.1,1098.1 886.0,1096.4 886.8,1096.7 887.7,1097.6 889.4,1101.2 891.0,1106.0 895.4,1121.4 896.8,1125.4 898.2,1128.7 899.6,1131.3 901.2,1133.3 902.9,1134.7 905.0,1135.7 908.2,1136.2 913.5,1136.4 1018.2,1136.8"/>
<polyline fill="none" stroke="#1a6ad9" stroke-width="3.0" stroke-linejoin="round" stroke-linecap="round" clip-path="url(#cc)" points="698.6,1137.1 740.4,1136.5 757.1,1135.9 771.5,1135.2 784.4,1134.3 796.0,1133.1 806.7,1131.6 816.6,1129.9 825.8,1127.8 834.5,1125.4 842.8,1122.6 850.9,1119.4 857.9,1116.1 865.0,1112.4 871.8,1108.4 883.0,1101.3 886.0,1099.7 887.1,1100.0 888.3,1100.8 889.4,1102.3 890.6,1104.2 892.8,1108.6 898.8,1122.5 900.6,1126.2 902.4,1129.1 904.3,1131.4 906.2,1133.3 908.4,1134.6 910.8,1135.5 915.0,1136.2 921.7,1136.5 1018.2,1136.8"/>
<polyline fill="none" stroke="#1a6ad9" stroke-width="3.0" stroke-linejoin="round" stroke-linecap="round" clip-path="url(#cc)" points="701.6,1137.1 743.4,1136.4 759.0,1135.9 772.8,1135.3 785.4,1134.4 796.9,1133.3 807.4,1131.9 817.2,1130.3 826.3,1128.4 835.0,1126.1 843.2,1123.5 851.1,1120.6 858.1,1117.6 865.0,1114.1 871.8,1110.4 883.0,1103.9 886.0,1102.4 887.4,1102.7 888.9,1103.5 890.3,1104.7 891.9,1106.6 894.7,1110.7 902.1,1123.4 904.4,1126.8 906.6,1129.4 908.8,1131.6 911.1,1133.2 913.6,1134.5 916.3,1135.4 921.5,1136.2 929.3,1136.6 1018.2,1136.9"/>
<polyline fill="none" stroke="#1a6ad9" stroke-width="3.0" stroke-linejoin="round" stroke-linecap="round" clip-path="url(#cc)" points="703.1,1137.1 743.4,1136.5 773.4,1135.4 785.9,1134.5 797.3,1133.5 807.7,1132.2 817.4,1130.7 826.5,1128.9 835.1,1126.8 843.3,1124.4 851.2,1121.6 858.2,1118.8 865.1,1115.6 871.9,1112.1 883.0,1106.0 886.0,1104.6 887.7,1104.9 889.5,1105.6 891.3,1106.8 893.2,1108.6 896.6,1112.5 905.4,1124.2 908.0,1127.2 910.6,1129.6 913.1,1131.6 915.7,1133.1 918.5,1134.4 921.5,1135.3 927.5,1136.2 936.4,1136.6 1018.2,1136.9"/>
<polyline fill="none" stroke="#1a6ad9" stroke-width="3.0" stroke-linejoin="round" stroke-linecap="round" clip-path="url(#cc)" points="704.6,1137.1 744.9,1136.5 774.0,1135.4 786.5,1134.6 797.8,1133.7 808.2,1132.4 817.8,1131.0 826.8,1129.3 835.3,1127.3 843.4,1125.0 851.3,1122.4 858.2,1119.8 865.1,1116.8 871.9,1113.5 883.0,1107.8 886.0,1106.4 888.1,1106.7 890.1,1107.4 892.2,1108.5 894.5,1110.2 898.4,1113.9 908.6,1124.8 911.7,1127.6 914.6,1129.8 917.4,1131.6 920.2,1133.1 923.2,1134.2 926.3,1135.1 933.3,1136.2 943.1,1136.6 1018.2,1136.9"/>
<polyline fill="none" stroke="#1a6ad9" stroke-width="3.0" stroke-linejoin="round" stroke-linecap="round" clip-path="url(#cc)" points="706.1,1137.1 746.3,1136.5 774.7,1135.5 787.0,1134.7 798.2,1133.8 808.5,1132.6 818.1,1131.2 827.1,1129.6 835.6,1127.7 843.7,1125.5 851.5,1123.1 858.3,1120.5 865.2,1117.7 883.0,1109.1 886.0,1107.9 888.3,1108.1 890.7,1108.7 893.1,1109.8 895.7,1111.4 900.3,1115.0 911.9,1125.3 915.3,1127.9 918.5,1130.0 921.5,1131.7 924.6,1133.0 927.7,1134.1 931.0,1135.0 934.7,1135.6 938.8,1136.1 949.4,1136.7 1018.2,1136.9"/>
<polyline fill="none" stroke="#1a6ad9" stroke-width="3.0" stroke-linejoin="round" stroke-linecap="round" clip-path="url(#cc)" points="707.6,1137.1 746.3,1136.5 775.3,1135.5 787.6,1134.8 798.7,1133.9 808.9,1132.8 818.4,1131.5 827.3,1129.9 835.7,1128.1 843.8,1126.0 851.6,1123.7 858.4,1121.2 865.3,1118.5 883.0,1110.4 886.0,1109.2 888.3,1109.3 890.7,1109.8 893.1,1110.6 895.6,1111.8 900.9,1115.1 913.7,1124.7 920.2,1129.0 923.9,1130.9 927.6,1132.5 931.4,1133.8 935.5,1134.8 939.6,1135.5 944.0,1136.1 955.2,1136.6 1018.2,1136.9"/>
<polyline fill="none" stroke="#1a6ad9" stroke-width="3.0" stroke-linejoin="round" stroke-linecap="round" clip-path="url(#cc)" points="709.1,1137.1 747.8,1136.5 775.9,1135.6 788.1,1134.9 799.1,1134.0 809.3,1132.9 818.8,1131.6 827.6,1130.1 836.0,1128.4 844.0,1126.4 851.7,1124.1 858.5,1121.8 865.3,1119.2 883.0,1111.3 886.0,1110.2 888.7,1110.4 891.3,1110.8 894.0,1111.7 896.9,1112.8 902.7,1116.0 916.6,1125.0 923.6,1129.0 927.5,1130.9 931.5,1132.4 935.5,1133.6 939.8,1134.6 944.1,1135.4 948.9,1136.0 960.6,1136.6 976.2,1136.8 1018.2,1137.0"/>
<polyline fill="none" stroke="#1a6ad9" stroke-width="3.0" stroke-linejoin="round" stroke-linecap="round" clip-path="url(#cc)" points="710.6,1137.1 747.8,1136.6 776.6,1135.6 799.6,1134.1 809.7,1133.0 819.1,1131.8 827.9,1130.3 836.2,1128.7 844.2,1126.8 851.8,1124.6 858.6,1122.4 865.4,1119.8 883.0,1112.3 886.0,1111.2 889.0,1111.4 892.0,1111.9 895.0,1112.7 898.2,1113.8 904.7,1116.9 919.5,1125.4 926.9,1129.1 931.0,1130.8 935.2,1132.3 939.4,1133.5 943.8,1134.5 953.5,1135.9 965.6,1136.6 981.5,1136.9 1018.2,1137.0"/>
<path d="M823.4,1086.4H947L959.4,1090.2V1138.1H823.4M823.4,1086.4V1138.1" fill="none" stroke="#000" stroke-width="3" stroke-dasharray="14 10.5"/>
<path d="M868,1082.7L830,1043.5" stroke="#000" stroke-width="3"/>
<path d="M823.8,1036.3L834.6,1041L826.6,1048.6Z" stroke="#000" stroke-width="1" stroke-linejoin="round" fill="#000"/>
<rect x="515.6" y="815.6" width="307" height="264.7" fill="#fff"/>
<rect x="515.6" y="815.6" width="307" height="264.7" fill="none" stroke="#000" stroke-width="2.6"/>
<path d="M565.6,815.6v8.5M565.6,1080.3v-8.5M668.6,815.6v8.5M668.6,1080.3v-8.5M771.6,815.6v8.5M771.6,1080.3v-8.5M515.6,947.9h8M822.6,947.9h-8" stroke="#000" stroke-width="2.6"/>
<polyline fill="none" stroke="#ee3b40" stroke-width="3.0" stroke-linejoin="round" stroke-linecap="round" clip-path="url(#ci)" points="668.4,1080.2 668.5,1080.2 668.6,978.2 669.6,848.2 670.6,627.2 673.4,-272.9 674.0,-383.0 674.3,-415.8 674.5,-424.6 674.9,-418.2 675.3,-388.1 676.1,-260.9 679.4,601.0 680.3,780.7 681.2,907.5 682.3,999.0 682.9,1028.6 683.5,1050.7 684.3,1065.2 685.1,1073.6 685.6,1076.3 686.2,1078.3 687.0,1079.4 688.0,1080.0"/>
<polyline fill="none" stroke="#ee3b40" stroke-width="3.0" stroke-linejoin="round" stroke-linecap="round" clip-path="url(#ci)" points="668.4,1080.2 668.5,1080.2 668.6,1046.0 669.6,1022.9 670.5,992.1 672.2,900.2 673.9,767.8 677.8,380.3 679.1,304.6 679.7,286.2 680.0,281.0 680.2,279.8 680.6,280.9 680.9,284.5 681.6,301.2 683.1,367.3 684.5,460.7 689.1,815.9 690.8,911.5 692.5,983.2 693.4,1010.0 694.4,1032.1 695.5,1049.3 696.7,1062.4 698.0,1070.7 698.8,1073.7 699.6,1076.0 700.5,1077.7 701.6,1078.8 702.8,1079.6 704.4,1080.0"/>
<polyline fill="none" stroke="#ee3b40" stroke-width="3.0" stroke-linejoin="round" stroke-linecap="round" clip-path="url(#ci)" points="668.4,1080.2 668.5,1080.2 668.6,1072.9 669.8,1068.0 670.9,1061.5 671.9,1053.2 672.8,1043.1 674.4,1018.7 675.8,987.9 677.2,947.6 678.7,894.7 683.1,701.8 684.7,642.5 685.6,615.7 686.4,597.7 687.2,586.6 687.6,583.7 688.1,582.8 688.6,583.5 689.0,585.9 690.1,596.3 691.2,613.5 692.3,636.8 694.4,697.5 698.9,850.2 701.1,915.5 703.5,974.5 705.9,1018.4 707.4,1036.2 708.8,1049.7 710.3,1060.5 712.0,1068.2 713.8,1073.5 714.8,1075.5 715.9,1077.1 717.2,1078.2 718.6,1079.0 720.2,1079.6 722.4,1080.0"/>
<polyline fill="none" stroke="#ee3b40" stroke-width="3.0" stroke-linejoin="round" stroke-linecap="round" clip-path="url(#ci)" points="668.4,1080.2 668.5,1080.2 668.6,1077.0 670.3,1074.5 671.9,1070.9 673.3,1066.1 674.6,1059.8 675.8,1052.5 676.8,1044.1 679.0,1021.3 681.0,992.6 682.9,956.3 688.9,822.5 691.0,780.3 692.2,762.7 693.3,750.7 694.3,743.3 694.9,741.4 695.4,740.9 696.1,741.4 696.7,743.1 698.1,750.3 699.5,762.0 701.0,778.9 703.7,819.0 709.7,922.5 712.5,966.8 715.6,1007.1 717.2,1023.1 718.7,1036.4 720.5,1048.3 722.4,1058.2 724.3,1065.7 726.5,1071.2 728.8,1075.1 730.1,1076.5 731.5,1077.7 733.1,1078.6 734.8,1079.2 739.3,1080.0"/>
<polyline fill="none" stroke="#ee3b40" stroke-width="3.0" stroke-linejoin="round" stroke-linecap="round" clip-path="url(#ci)" points="668.4,1080.2 668.5,1080.2 668.6,1077.3 670.7,1075.1 672.6,1072.0 674.3,1067.8 675.9,1062.6 677.2,1057.0 678.5,1050.1 681.0,1032.9 683.4,1010.7 685.8,982.8 693.0,879.5 695.6,846.6 697.0,833.1 698.4,823.1 699.8,817.4 700.4,816.0 701.1,815.6 701.9,816.1 702.7,817.4 703.6,819.6 704.5,823.0 706.2,832.2 708.0,845.1 711.5,877.3 718.7,956.8 722.2,991.3 724.1,1007.7 726.0,1022.2 727.9,1034.5 729.8,1044.9 731.9,1054.3 734.1,1061.9 736.5,1067.9 739.2,1072.6 740.6,1074.3 742.1,1075.8 743.6,1077.0 745.4,1078.0 747.3,1078.8 749.3,1079.3 754.6,1080.0"/>
<polyline fill="none" stroke="#ee3b40" stroke-width="3.0" stroke-linejoin="round" stroke-linecap="round" clip-path="url(#ci)" points="668.4,1080.2 668.5,1080.2 668.6,1077.3 670.9,1075.4 673.1,1072.6 675.0,1069.1 676.8,1064.7 678.4,1059.8 679.9,1054.2 682.7,1040.4 685.4,1022.8 688.2,1000.3 690.9,975.8 696.9,915.6 699.9,889.5 701.7,878.1 703.3,870.0 704.1,867.2 704.9,865.4 705.7,864.2 706.4,863.9 707.4,864.3 708.4,865.4 709.4,867.2 710.5,870.0 712.5,877.4 714.8,888.3 716.7,899.6 718.8,914.0 727.5,979.5 731.6,1007.1 733.9,1020.8 736.1,1032.5 738.3,1042.4 740.6,1050.8 743.1,1058.7 745.8,1064.9 748.6,1069.9 751.6,1073.7 754.9,1076.3 756.8,1077.4 758.8,1078.2 763.4,1079.4 769.4,1080.0"/>
<polyline fill="none" stroke="#ee3b40" stroke-width="3.0" stroke-linejoin="round" stroke-linecap="round" clip-path="url(#ci)" points="668.4,1080.2 668.5,1080.2 668.6,1078.5 671.7,1077.1 674.3,1075.1 676.7,1072.5 678.9,1069.1 680.9,1065.2 682.7,1060.8 684.4,1055.6 686.2,1049.4 689.5,1034.9 692.8,1016.1 696.0,995.7 703.0,946.8 706.5,925.6 708.5,916.5 710.4,910.0 711.3,907.8 712.2,906.2 713.1,905.2 714.0,904.9 715.2,905.2 716.3,906.1 717.5,907.6 718.7,909.7 721.2,916.0 723.8,924.7 726.1,934.3 728.5,945.9 738.5,998.1 743.2,1020.6 745.9,1031.5 748.4,1040.9 751.0,1049.0 753.5,1055.8 756.4,1062.1 759.5,1067.3 762.7,1071.4 766.2,1074.6 770.0,1076.9 774.3,1078.4 779.4,1079.4 786.1,1080.0"/>
<polyline fill="none" stroke="#ee3b40" stroke-width="3.0" stroke-linejoin="round" stroke-linecap="round" clip-path="url(#ci)" points="668.4,1080.2 668.5,1080.2 668.6,1079.1 672.8,1077.9 676.4,1076.1 678.7,1074.4 680.9,1072.2 683.2,1069.2 685.4,1065.5 687.6,1061.2 689.6,1056.1 691.6,1050.4 693.5,1044.1 697.4,1028.9 701.0,1012.2 709.1,972.0 713.1,954.8 715.3,947.4 717.5,942.2 718.6,940.3 719.6,939.1 720.6,938.2 721.6,938.0 722.9,938.2 724.3,938.9 725.6,940.1 727.0,941.9 729.8,946.8 732.7,954.0 735.3,961.6 738.2,971.2 749.6,1013.6 754.8,1031.5 757.8,1040.4 760.7,1048.0 763.6,1054.5 766.5,1060.1 769.8,1065.3 773.1,1069.4 776.8,1072.8 780.6,1075.4 784.8,1077.3 789.6,1078.6 795.3,1079.5 802.5,1080.0"/>
<polyline fill="none" stroke="#ee3b40" stroke-width="3.0" stroke-linejoin="round" stroke-linecap="round" clip-path="url(#ci)" points="668.4,1080.2 668.5,1080.2 668.6,1079.2 672.6,1078.4 676.2,1077.1 679.4,1075.4 682.3,1073.3 684.8,1070.8 687.3,1067.7 689.6,1064.1 691.9,1059.9 694.1,1055.3 696.1,1050.2 700.5,1037.5 704.5,1023.7 713.7,989.9 716.1,981.9 718.2,975.6 720.7,969.6 723.1,965.2 724.3,963.7 725.4,962.7 726.6,962.0 727.7,961.8 729.2,962.0 730.7,962.6 732.2,963.6 733.7,965.0 736.9,969.2 740.2,975.1 743.0,981.4 746.3,989.4 759.0,1024.5 764.9,1039.5 768.1,1046.6 771.3,1052.9 774.5,1058.4 777.8,1063.1 781.4,1067.4 785.1,1070.9 789.1,1073.8 793.4,1076.0 798.0,1077.6 803.3,1078.8 809.5,1079.5 817.2,1080.0"/>
<polyline fill="none" stroke="#ee3b40" stroke-width="3.0" stroke-linejoin="round" stroke-linecap="round" clip-path="url(#ci)" points="668.4,1080.2 668.5,1080.2 668.6,1079.2 672.8,1078.3 676.5,1077.2 679.9,1075.6 683.0,1073.7 685.8,1071.4 688.3,1068.8 690.8,1065.8 693.2,1062.3 695.5,1058.4 697.8,1053.9 702.5,1043.2 706.9,1031.4 716.8,1003.2 719.5,996.4 721.9,991.0 724.7,985.7 727.4,981.9 728.7,980.6 729.9,979.7 731.3,979.2 732.5,979.0 734.1,979.2 735.8,979.7 737.4,980.6 739.2,981.8 742.6,985.4 746.3,990.5 749.6,996.0 753.1,1002.7 767.1,1032.6 773.5,1045.1 777.1,1051.2 780.6,1056.6 784.2,1061.3 787.7,1065.3 791.7,1069.0 795.8,1072.1 800.2,1074.5 804.9,1076.4 809.9,1077.9 815.6,1078.9 822.2,1079.6 830.3,1080.0"/>
<path d="M515.6,1080.2H822.6" stroke="#1a6ad9" stroke-width="3.0" clip-path="url(#ci)"/>
<polyline fill="none" stroke="#1a6ad9" stroke-width="3.0" stroke-linejoin="round" stroke-linecap="round" clip-path="url(#ci)" points="503.8,1065.1 513.3,1062.6 520.6,1060.1 528.1,1056.7 536.0,1052.3 553.0,1041.1 561.5,1035.0 565.1,1032.1 568.4,1029.1 571.4,1025.9 574.2,1022.5 576.3,1019.5 578.0,1016.7 584.0,1003.8 599.3,975.3 606.7,961.0 612.2,949.5 621.4,927.9 625.3,920.3 627.7,916.8 631.0,913.3 634.1,910.8 641.2,905.5 644.8,902.2 648.8,897.1 652.7,890.6 656.7,882.7 660.7,873.3 664.7,862.6 668.6,850.7 668.9,851.0 669.3,852.1 670.2,857.0 671.0,865.0 671.9,877.1 673.5,904.2 677.9,992.3 679.3,1015.0 680.7,1033.4 682.3,1048.8 683.9,1059.8 684.8,1064.0 685.8,1067.2 686.7,1069.7 687.9,1071.7 689.3,1073.2 691.0,1074.2 693.2,1074.7 696.6,1074.9 833.4,1076.8"/>
<polyline fill="none" stroke="#1a6ad9" stroke-width="3.0" stroke-linejoin="round" stroke-linecap="round" clip-path="url(#ci)" points="503.8,1065.1 517.4,1060.8 523.9,1058.4 530.2,1055.8 536.2,1053.1 542.1,1050.1 547.9,1046.9 553.4,1043.5 558.8,1039.9 564.1,1036.0 569.3,1031.9 574.4,1027.6 579.4,1023.0 584.2,1018.2 589.0,1013.1 593.7,1007.8 602.3,996.9 610.8,984.8 619.1,971.8 627.3,957.4 634.2,944.4 641.2,930.1 648.9,913.4 663.6,880.2 666.8,873.6 668.6,870.5 669.2,870.8 669.8,872.0 671.2,876.6 672.5,884.2 673.9,895.2 676.4,919.9 683.2,998.3 685.3,1018.7 687.4,1034.9 689.6,1048.4 691.9,1058.5 693.2,1062.6 694.4,1065.8 695.8,1068.6 697.3,1070.8 699.5,1072.9 702.1,1074.3 705.3,1075.1 709.8,1075.5 752.9,1076.2 833.4,1077.1"/>
<polyline fill="none" stroke="#1a6ad9" stroke-width="3.0" stroke-linejoin="round" stroke-linecap="round" clip-path="url(#ci)" points="503.8,1066.3 517.4,1062.4 530.2,1057.8 536.2,1055.3 542.1,1052.5 547.9,1049.6 553.4,1046.5 558.8,1043.2 564.1,1039.7 569.3,1035.9 574.4,1031.9 584.2,1023.3 593.7,1013.7 602.3,1003.7 610.8,992.6 619.1,980.7 627.3,967.5 634.2,955.5 641.2,942.4 648.9,927.1 663.6,896.6 666.8,890.6 668.6,887.7 669.4,888.0 670.3,889.1 671.2,890.9 672.2,893.5 674.0,900.6 675.9,910.6 679.2,933.3 688.4,1003.8 691.2,1022.0 693.8,1036.3 696.6,1048.2 699.4,1057.6 700.9,1061.4 702.5,1064.6 704.1,1067.4 705.9,1069.7 708.8,1072.4 712.2,1074.2 716.3,1075.4 721.9,1076.0 740.0,1076.4 833.4,1077.4"/>
<polyline fill="none" stroke="#1a6ad9" stroke-width="3.0" stroke-linejoin="round" stroke-linecap="round" clip-path="url(#ci)" points="503.8,1067.3 517.4,1063.7 530.2,1059.4 542.1,1054.5 553.4,1048.9 564.1,1042.6 574.4,1035.4 584.2,1027.4 593.7,1018.5 602.3,1009.2 610.8,999.0 619.1,987.9 627.3,975.6 634.2,964.5 641.2,952.3 648.9,938.1 663.6,909.8 666.8,904.2 668.6,901.6 669.7,901.9 670.8,902.9 671.9,904.5 673.1,906.8 675.4,913.4 677.8,922.9 679.9,932.5 682.2,944.5 690.2,990.4 693.5,1008.3 696.9,1024.6 700.2,1038.0 703.4,1048.6 706.7,1057.1 708.4,1060.7 710.2,1063.7 712.0,1066.4 713.9,1068.7 715.7,1070.4 717.6,1071.9 719.6,1073.1 721.8,1074.1 726.6,1075.5 733.0,1076.3 749.5,1076.8 833.4,1077.6"/>
<polyline fill="none" stroke="#1a6ad9" stroke-width="3.0" stroke-linejoin="round" stroke-linecap="round" clip-path="url(#ci)" points="503.8,1068.1 517.4,1064.7 530.2,1060.8 542.1,1056.2 553.4,1050.9 564.1,1044.9 574.4,1038.2 584.2,1030.7 593.7,1022.4 602.3,1013.7 610.8,1004.1 619.1,993.7 627.3,982.2 634.2,971.8 641.2,960.4 648.9,947.1 663.6,920.6 666.8,915.3 668.6,912.8 669.9,913.2 671.3,914.1 672.6,915.6 674.0,917.8 676.8,924.1 679.8,932.9 682.3,941.8 685.1,953.1 694.7,995.6 698.6,1012.2 702.6,1027.1 706.4,1039.2 710.0,1048.9 713.6,1056.6 717.4,1062.8 719.4,1065.4 721.4,1067.6 723.5,1069.5 725.7,1071.2 728.0,1072.5 730.5,1073.7 733.2,1074.6 736.1,1075.4 743.1,1076.4 750.1,1076.8 760.5,1077.1 833.4,1077.7"/>
<polyline fill="none" stroke="#1a6ad9" stroke-width="3.0" stroke-linejoin="round" stroke-linecap="round" clip-path="url(#ci)" points="503.8,1068.8 517.4,1065.6 530.0,1061.9 542.0,1057.5 553.3,1052.6 564.0,1047.0 574.3,1040.6 584.0,1033.6 593.5,1025.7 602.2,1017.5 610.7,1008.4 618.9,998.7 627.2,987.8 634.1,978.0 640.9,967.4 648.8,954.6 663.7,929.2 667.0,924.1 668.7,922.1 670.0,922.3 671.4,923.0 672.8,924.2 674.2,925.8 677.1,930.3 680.1,936.7 683.1,944.8 686.4,955.0 701.9,1009.6 705.9,1022.6 709.8,1033.7 714.4,1044.7 718.9,1053.7 721.2,1057.5 723.6,1060.9 726.0,1063.9 728.5,1066.5 730.9,1068.6 733.4,1070.4 736.0,1071.9 738.8,1073.2 741.8,1074.3 745.0,1075.2 752.5,1076.4 760.2,1077.0 771.0,1077.3 833.4,1077.9"/>
<polyline fill="none" stroke="#1a6ad9" stroke-width="3.0" stroke-linejoin="round" stroke-linecap="round" clip-path="url(#ci)" points="503.8,1069.3 517.4,1066.3 530.0,1062.7 542.0,1058.6 553.3,1053.9 564.0,1048.5 574.3,1042.4 584.0,1035.7 593.5,1028.2 602.2,1020.4 610.7,1011.8 618.9,1002.4 627.2,992.1 634.1,982.7 640.9,972.6 648.8,960.4 663.7,936.1 667.0,931.2 668.7,929.4 670.3,929.6 671.9,930.3 673.6,931.5 675.2,933.1 676.8,935.1 678.6,937.6 682.0,943.9 685.5,951.6 689.3,961.4 693.4,973.1 706.5,1011.9 711.0,1023.9 715.1,1033.9 720.0,1044.3 724.9,1052.8 727.4,1056.4 729.9,1059.8 732.6,1062.8 735.2,1065.3 737.9,1067.5 740.7,1069.5 743.5,1071.2 746.6,1072.6 749.8,1073.8 753.3,1074.8 761.1,1076.3 769.3,1077.0 780.5,1077.5 833.4,1078.0"/>
<polyline fill="none" stroke="#1a6ad9" stroke-width="3.0" stroke-linejoin="round" stroke-linecap="round" clip-path="url(#ci)" points="503.8,1069.8 517.4,1066.9 530.0,1063.5 542.0,1059.5 553.3,1055.0 564.0,1049.9 574.3,1044.1 584.0,1037.7 593.5,1030.5 602.2,1023.0 610.7,1014.8 618.9,1005.8 627.2,995.9 634.1,987.0 640.9,977.3 648.8,965.7 663.7,942.4 667.0,937.8 668.7,936.0 670.5,936.2 672.4,936.9 674.3,938.1 676.2,939.6 678.1,941.6 680.1,944.1 684.2,950.6 688.1,958.0 692.3,967.3 696.8,978.2 711.1,1014.1 715.8,1025.1 720.3,1034.4 725.6,1044.1 730.8,1052.1 736.0,1058.7 738.8,1061.6 741.6,1064.2 744.4,1066.5 747.4,1068.6 750.5,1070.4 753.8,1071.9 757.1,1073.2 760.8,1074.3 768.9,1076.0 777.5,1077.0 788.6,1077.5 833.4,1078.1"/>
<polyline fill="none" stroke="#1a6ad9" stroke-width="3.0" stroke-linejoin="round" stroke-linecap="round" clip-path="url(#ci)" points="503.8,1070.2 517.4,1067.4 530.0,1064.1 542.0,1060.3 553.3,1055.9 564.0,1051.0 574.3,1045.4 584.0,1039.2 593.5,1032.3 602.2,1025.1 610.6,1017.3 618.8,1008.7 627.1,999.2 633.8,990.7 640.7,981.5 648.6,970.1 663.9,947.3 667.3,942.7 668.4,941.4 668.8,941.3 670.8,941.6 673.0,942.3 675.1,943.4 677.3,945.0 679.4,947.0 681.6,949.4 686.2,955.8 690.5,963.0 695.2,972.0 700.2,982.3 715.4,1015.5 720.5,1025.8 725.2,1034.4 730.8,1043.4 736.3,1051.2 741.8,1057.6 747.5,1063.0 750.5,1065.3 753.7,1067.4 757.0,1069.3 760.4,1071.0 763.9,1072.4 767.6,1073.6 775.9,1075.6 784.8,1076.7 795.7,1077.5 810.0,1077.9 833.4,1078.2"/>
<polyline fill="none" stroke="#1a6ad9" stroke-width="3.0" stroke-linejoin="round" stroke-linecap="round" clip-path="url(#ci)" points="503.8,1070.6 517.4,1067.9 530.0,1064.7 542.0,1061.0 553.3,1056.9 564.0,1052.1 574.3,1046.7 584.0,1040.8 593.5,1034.1 602.2,1027.2 610.6,1019.7 618.8,1011.4 627.1,1002.3 633.8,994.2 640.7,985.3 648.6,974.3 663.9,952.4 667.2,948.1 668.4,946.7 668.8,946.6 671.1,946.8 673.5,947.5 675.9,948.7 678.3,950.2 680.7,952.2 683.2,954.7 685.8,957.6 688.4,961.0 693.1,967.9 698.3,976.7 703.6,986.5 719.8,1017.2 725.2,1026.6 730.1,1034.7 735.9,1043.2 741.6,1050.4 747.3,1056.5 753.1,1061.8 759.5,1066.3 762.9,1068.3 766.4,1070.0 770.0,1071.5 773.8,1072.8 782.0,1074.9 790.9,1076.4 801.4,1077.3 814.5,1077.9 833.4,1078.2"/>
<rect x="176.2" y="782.8" width="54" height="44" fill="#fff"/>
<g transform="translate(235.90,891.00)" fill="none" stroke="#000"><path d="M1.2,-11.5C2,-13.8 3.3,-14.85 5.2,-14.85L13.6,-14.85" stroke-width="2.7" stroke-linecap="round"/><path d="M9.5,-14.3C8.6,-10.5 7.4,-7 7.4,-4.3C7.4,-2.2 8.3,-1.3 9.6,-1.3C10.8,-1.3 11.6,-2 12.3,-3.2" stroke-width="2.9" stroke-linecap="round"/></g>
<g transform="translate(388.30,891.00)" fill="none" stroke="#000" stroke-width="3.0"><path d="M1.55,-16.2V-1"/><path d="M1.6,-6C1.9,-2.9 3.5,-1.6 6,-1.6C8.6,-1.6 10.9,-3.1 11.75,-6" stroke-width="2.7"/><path d="M11.75,-16.2V-4.6C11.75,-2.6 12.5,-1.8 13.7,-1.8C15,-1.8 15.8,-2.6 16.3,-4.2" stroke-width="2.8"/><path d="M0.05,-2L3.05,-2L2.8,5.4L0.2,5.4Z" fill="#000" stroke="none"/><circle cx="1.4" cy="6.0" r="2.0" fill="#000" stroke="none"/></g>
<g transform="translate(235.90,942.50)" fill="none" stroke="#000"><path d="M1.2,-11.5C2,-13.8 3.3,-14.85 5.2,-14.85L13.6,-14.85" stroke-width="2.7" stroke-linecap="round"/><path d="M9.5,-14.3C8.6,-10.5 7.4,-7 7.4,-4.3C7.4,-2.2 8.3,-1.3 9.6,-1.3C10.8,-1.3 11.6,-2 12.3,-3.2" stroke-width="2.9" stroke-linecap="round"/></g>
<g transform="translate(407.40,942.50)" fill="none" stroke="#000" stroke-width="3.0"><path d="M1.55,-16.2V-1"/><path d="M1.6,-6C1.9,-2.9 3.5,-1.6 6,-1.6C8.6,-1.6 10.9,-3.1 11.75,-6" stroke-width="2.7"/><path d="M11.75,-16.2V-4.6C11.75,-2.6 12.5,-1.8 13.7,-1.8C15,-1.8 15.8,-2.6 16.3,-4.2" stroke-width="2.8"/><path d="M0.05,-2L3.05,-2L2.8,5.4L0.2,5.4Z" fill="#000" stroke="none"/><circle cx="1.4" cy="6.0" r="2.0" fill="#000" stroke="none"/></g>
<g transform="translate(235.90,994.20)" fill="none" stroke="#000"><path d="M1.2,-11.5C2,-13.8 3.3,-14.85 5.2,-14.85L13.6,-14.85" stroke-width="2.7" stroke-linecap="round"/><path d="M9.5,-14.3C8.6,-10.5 7.4,-7 7.4,-4.3C7.4,-2.2 8.3,-1.3 9.6,-1.3C10.8,-1.3 11.6,-2 12.3,-3.2" stroke-width="2.9" stroke-linecap="round"/></g>
<text transform="translate(73.25,34.05) scale(1.0000,1.0500)" font-size="35.5">0.15</text>
<text transform="translate(73.25,147.20) scale(1.0000,1.0500)" font-size="35.5">0.10</text>
<text transform="translate(73.25,260.35) scale(1.0000,1.0500)" font-size="35.5">0.05</text>
<text transform="translate(73.25,373.50) scale(1.0000,1.0500)" font-size="35.5">0.00</text>
<text transform="translate(175.85,48.90) scale(1.0000,1.0200)" font-size="44.5">(a)</text>
<text x="269.30" y="122.70" font-size="25">n</text>
<text transform="translate(293.61,110.60) scale(0.9300,0.9090)" font-size="35.5">=</text>
<text transform="translate(322.90,112.80) scale(1.0000,1.0500)" font-size="35.5">8.4</text>
<text transform="translate(404.30,112.80) scale(1.0000,1.0300)" font-size="35.5">s</text>
<text x="269.30" y="174.50" font-size="25">p</text>
<text transform="translate(293.61,162.40) scale(0.9300,0.9090)" font-size="35.5">=</text>
<text transform="translate(322.90,164.60) scale(1.0000,1.0500)" font-size="35.5">9.4</text>
<text transform="translate(404.30,164.60) scale(1.0000,1.0300)" font-size="35.5">s</text>
<text x="268.80" y="225.70" font-size="25">D</text>
<text transform="translate(297.11,213.60) scale(0.9300,0.9090)" font-size="35.5">=</text>
<text transform="translate(326.00,215.80) scale(1.0000,1.0500)" font-size="35.5">8.4</text>
<text transform="translate(388.25,215.80) scale(1.0000,1.0300)" font-size="35.5">ns</text>
<text x="650.20" y="82.40" font-size="35.5">Δn</text>
<text x="650.20" y="127.00" font-size="35.5">Δp</text>
<text transform="translate(73.25,435.60) scale(1.0000,1.0500)" font-size="35.5">0.45</text>
<text transform="translate(73.25,544.03) scale(1.0000,1.0500)" font-size="35.5">0.30</text>
<text transform="translate(73.25,652.47) scale(1.0000,1.0500)" font-size="35.5">0.15</text>
<text transform="translate(73.25,760.90) scale(1.0000,1.0500)" font-size="35.5">0.00</text>
<text transform="translate(175.45,436.69) scale(1.0000,1.0200)" font-size="44.5">(b)</text>
<text x="250.00" y="513.10" font-size="25">n</text>
<text transform="translate(273.61,501.00) scale(0.9300,0.9090)" font-size="35.5">=</text>
<text transform="translate(303.95,503.20) scale(1.0000,1.0500)" font-size="35.5">0.86</text>
<text transform="translate(404.80,503.20) scale(1.0000,1.0300)" font-size="35.5">s</text>
<text x="250.00" y="564.60" font-size="25">p</text>
<text transform="translate(273.61,552.50) scale(0.9300,0.9090)" font-size="35.5">=</text>
<text transform="translate(303.95,554.70) scale(1.0000,1.0500)" font-size="35.5">0.87</text>
<text transform="translate(404.80,554.70) scale(1.0000,1.0300)" font-size="35.5">s</text>
<text x="249.50" y="616.10" font-size="25">D</text>
<text transform="translate(277.50,604.00) scale(0.9300,0.9090)" font-size="35.5">=</text>
<text transform="translate(306.75,606.20) scale(1.0000,1.0500)" font-size="35.5">0.56</text>
<text transform="translate(390.40,606.20) scale(1.0000,1.0300)" font-size="35.5">ms</text>
<text x="538.25" y="535.30" font-size="35">E</text>
<text x="562.00" y="544.15" font-size="25">0</text>
<text x="576.30" y="535.30" font-size="35">=1000 V/cm</text>
<text transform="translate(72.75,838.10) scale(1.0000,1.0500)" font-size="35.5">0.24</text>
<text transform="translate(73.25,941.37) scale(1.0000,1.0500)" font-size="35.5">0.16</text>
<text transform="translate(73.25,1044.63) scale(1.0000,1.0500)" font-size="35.5">0.08</text>
<text transform="translate(73.25,1147.90) scale(1.0000,1.0500)" font-size="35.5">0.00</text>
<text transform="translate(457.73,823.50) scale(0.8660,1.0000)" font-size="27.4">0.04</text>
<text transform="translate(457.73,956.00) scale(0.8745,1.0000)" font-size="27.4">0.02</text>
<text transform="translate(457.73,1088.70) scale(0.8702,1.0000)" font-size="27.4">0.00</text>
<text transform="translate(545.69,1112.00) scale(0.8111,1.0000)" font-size="27.4">-0.1</text>
<text transform="translate(662.34,1112.00) scale(0.8604,1.0000)" font-size="27.4">0</text>
<text transform="translate(755.02,1112.00) scale(0.7832,1.0000)" font-size="27.4">0.1</text>
<text transform="translate(175.45,823.79) scale(1.0000,1.0200)" font-size="44.5">(c)</text>
<text x="250.10" y="900.90" font-size="25">n</text>
<text transform="translate(273.31,888.80) scale(0.9300,0.9090)" font-size="35.5">=</text>
<text transform="translate(304.35,891.00) scale(1.0000,1.0500)" font-size="35.5">0.72</text>
<text transform="translate(405.50,891.00) scale(1.0000,1.0300)" font-size="35.5">s</text>
<text x="250.10" y="952.40" font-size="25">p</text>
<text transform="translate(273.31,940.30) scale(0.9300,0.9090)" font-size="35.5">=</text>
<text transform="translate(304.35,942.50) scale(1.0000,1.0500)" font-size="35.5">0.084</text>
<text transform="translate(424.50,942.50) scale(1.0000,1.0300)" font-size="35.5">s</text>
<text x="249.60" y="1004.10" font-size="25">D</text>
<text transform="translate(277.61,992.00) scale(0.9300,0.9090)" font-size="35.5">=</text>
<text transform="translate(307.00,994.20) scale(1.0000,1.0500)" font-size="35.5">5.9</text>
<text transform="translate(369.35,994.20) scale(1.0000,1.0300)" font-size="35.5">ns</text>
<text transform="translate(193.80,1181.00) scale(1.0000,1.0450)" font-size="35.5">-1.0</text>
<text transform="translate(524.00,1181.00) scale(1.0000,1.0450)" font-size="35.5">-0.5</text>
<text transform="translate(861.38,1181.00) scale(1.0000,1.0450)" font-size="35.5">0.0</text>
<text transform="translate(496.80,1241.00) scale(0.9989,1.0000)" font-size="45.3">x (mm)</text>
<text transform="translate(32.6,0) rotate(-90)" x="-745.55" y="0" font-size="43.5">Δ</text>
<text transform="translate(32.6,0) rotate(-90)" x="-717.15" y="0" font-size="43.5">n</text>
<text transform="translate(32.6,0) rotate(-90)" x="-693.60" y="0" font-size="43.5">,</text>
<text transform="translate(32.6,0) rotate(-90)" x="-682.05" y="0" font-size="43.5">Δ</text>
<text transform="translate(32.6,0) rotate(-90)" x="-653.15" y="0" font-size="43.5">p</text>
<text transform="translate(32.6,0) rotate(-90)" x="-629.60" y="0" font-size="43.5">/</text>
<text transform="translate(32.6,0) rotate(-90)" x="-616.35" y="0" font-size="43.5">m</text>
<text transform="translate(32.6,0) rotate(-90)" x="-580.15" y="0" font-size="43.5">a</text>
<text transform="translate(32.6,0) rotate(-90)" x="-551.00" y="0" font-size="43.5">x</text>
<text transform="translate(32.6,0) rotate(-90)" x="-529.80" y="0" font-size="43.5">[</text>
<text transform="translate(32.6,0) rotate(-90)" x="-516.05" y="0" font-size="43.5">Δ</text>
<text transform="translate(32.6,0) rotate(-90)" x="-487.95" y="0" font-size="43.5">n</text>
<text transform="translate(32.6,0) rotate(-90)" x="-462.90" y="0" font-size="43.5">(</text>
<text transform="translate(32.6,0) rotate(-90)" x="-448.10" y="0" font-size="43.5">t</text>
<text transform="translate(32.6,0) rotate(-90)" x="-436.80" y="0" font-size="43.5">=</text>
<text transform="translate(32.6,0) rotate(-90)" x="-411.30" y="0" font-size="43.5">0</text>
<text transform="translate(32.6,0) rotate(-90)" x="-384.25" y="0" font-size="43.5">)</text>
<text transform="translate(32.6,0) rotate(-90)" x="-367.85" y="0" font-size="43.5">]</text>
</svg></body></html>
